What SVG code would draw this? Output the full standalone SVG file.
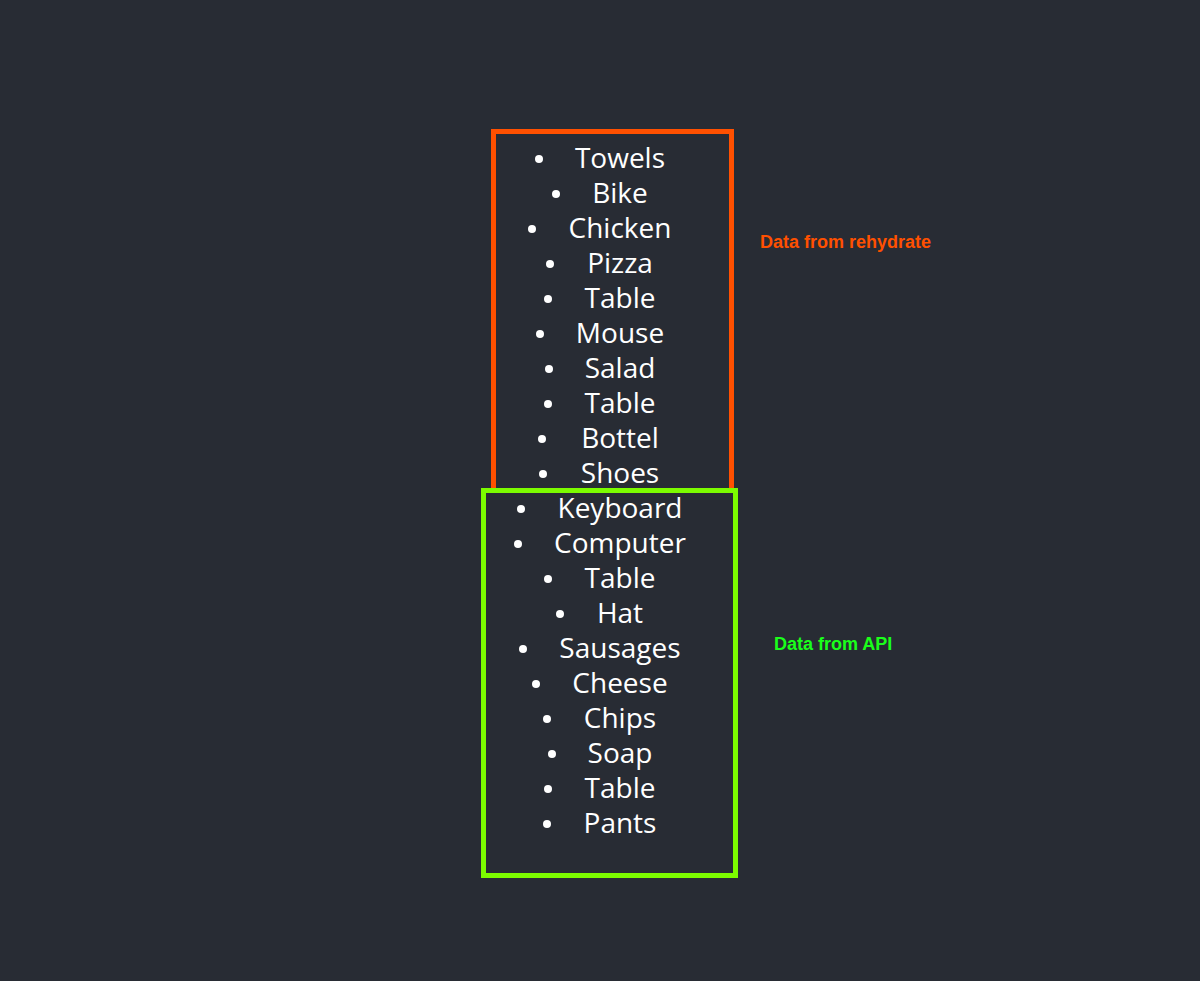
<svg xmlns="http://www.w3.org/2000/svg" width="1200" height="981" viewBox="0 0 1200 981">
<style>
.i{font-family:"Open Sans","Noto Sans",sans-serif;font-size:28px;fill:#fff;text-anchor:middle}
.b{fill:#fff}
.l{font-family:"Liberation Sans",Arial,sans-serif;font-size:18px;font-weight:bold}
</style>
<rect width="1200" height="981" fill="#282c34"/>
<g id="rehydrate">
<rect x="493.5" y="131.5" width="238" height="359" fill="none" stroke="#ff5000" stroke-width="5"/>
<g class="i">
<text x="620" y="168">Towels</text><text x="620" y="203">Bike</text><text x="620" y="238">Chicken</text><text x="620" y="273">Pizza</text><text x="620" y="308">Table</text><text x="620" y="343">Mouse</text><text x="620" y="378">Salad</text><text x="620" y="413">Table</text><text x="620" y="448">Bottel</text><text x="620" y="483">Shoes</text>
</g>
<g class="b">
<circle cx="539" cy="159" r="4"/><circle cx="556" cy="194" r="4"/><circle cx="532" cy="229" r="4"/><circle cx="550" cy="264" r="4"/><circle cx="548" cy="299" r="4"/><circle cx="540" cy="334" r="4"/><circle cx="549" cy="369" r="4"/><circle cx="548" cy="404" r="4"/><circle cx="542" cy="439" r="4"/><circle cx="543" cy="474" r="4"/>
</g>
</g>
<g id="api">
<rect x="483.5" y="490.5" width="252" height="385" fill="none" stroke="#7cfc00" stroke-width="5"/>
<g class="i">
<text x="620" y="518">Keyboard</text><text x="620" y="553">Computer</text><text x="620" y="588">Table</text><text x="620" y="623">Hat</text><text x="620" y="658">Sausages</text><text x="620" y="693">Cheese</text><text x="620" y="728">Chips</text><text x="620" y="763">Soap</text><text x="620" y="798">Table</text><text x="620" y="833">Pants</text>
</g>
<g class="b">
<circle cx="521" cy="509" r="4"/><circle cx="518" cy="544" r="4"/><circle cx="548" cy="579" r="4"/><circle cx="560" cy="614" r="4"/><circle cx="523" cy="649" r="4"/><circle cx="536" cy="684" r="4"/><circle cx="547" cy="719" r="4"/><circle cx="552" cy="754" r="4"/><circle cx="548" cy="789" r="4"/><circle cx="547" cy="824" r="4"/>
</g>
</g>
<g id="labels">
<text class="l" x="760" y="248" fill="#ff5000">Data from rehydrate</text>
<text class="l" x="774" y="650" fill="#1aff1a">Data from API</text>
</g>
<g id="connectors"/>
</svg>
